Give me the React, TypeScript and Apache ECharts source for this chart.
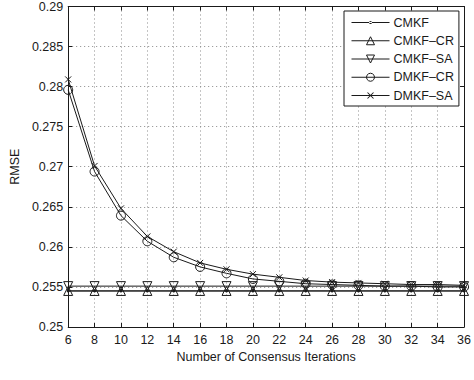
import React, { useEffect, useRef } from "react";
import * as echarts from "echarts";

const iterations = [6, 8, 10, 12, 14, 16, 18, 20, 22, 24, 26, 28, 30, 32, 34, 36];
const cmkf = [0.2545, 0.2545, 0.2545, 0.2545, 0.2545, 0.2545, 0.2545, 0.2545, 0.2545, 0.2545, 0.2545, 0.2545, 0.2545, 0.2545, 0.2545, 0.2545];
const cmkfCR = [0.2545, 0.2545, 0.2545, 0.2545, 0.2545, 0.2545, 0.2545, 0.2545, 0.2545, 0.2545, 0.2545, 0.2545, 0.2545, 0.2545, 0.2545, 0.2545];
const cmkfSA = [0.2551, 0.2551, 0.2551, 0.2551, 0.2551, 0.2551, 0.2551, 0.2551, 0.2551, 0.2551, 0.2551, 0.2551, 0.2551, 0.2551, 0.2551, 0.2551];
const dmkfCR = [0.2796, 0.2694, 0.2639, 0.2607, 0.2587, 0.2575, 0.2567, 0.256, 0.2557, 0.2554, 0.2553, 0.2552, 0.2551, 0.2551, 0.255, 0.255];
const dmkfSA = [0.2809, 0.2701, 0.2648, 0.2613, 0.2594, 0.258, 0.2572, 0.2566, 0.2562, 0.2558, 0.2556, 0.2555, 0.2554, 0.2553, 0.2553, 0.2552];

const seriesNames = ["CMKF", "CMKF–CR", "CMKF–SA", "DMKF–CR", "DMKF–SA"];
const xTitle = "Number of Consensus Iterations";
const yTitle = "RMSE";

const FONT = "Liberation Sans";
const INK = "#1a1a1a";
const CROSS = "path://M0,0L10,10M10,0L0,10";
// legend icons drawn in a 38x10 box; corner specks keep the box size, a thin bar is the line
const ICON_FRAME = "M0,0h0.01v0.01h-0.01z M37.99,9.99h0.01v0.01h-0.01z M0,4.5h38v1h-38z";
const CMKF_ICON = "path://" + ICON_FRAME + " M17.5,5a1.5,1.5 0 1,0 3,0a1.5,1.5 0 1,0 -3,0z";
const CROSS_ICON =
  "path://" +
  ICON_FRAME +
  " M15.65,2.35L16.35,1.65L22.35,7.65L21.65,8.35z M21.65,1.65L22.35,2.35L16.35,8.35L15.65,7.65z";

export default function App() {
  const ref = useRef<HTMLDivElement>(null);
  useEffect(() => {
    if (!ref.current) return;
    const chart = echarts.init(ref.current, undefined, { renderer: "svg" });
    const pts = (arr: number[]) => iterations.map((x, i) => [x, arr[i]]);
    const hollow = { color: "none", borderColor: INK, borderWidth: 1 };
    const lineBase = {
      type: "line" as const,
      lineStyle: { color: INK, width: 1 },
      itemStyle: hollow,
      emphasis: { disabled: true },
      z: 3,
    };
    const xBase = {
      type: "value" as const,
      min: 6,
      max: 36,
      interval: 2,
      axisLine: { show: true, onZero: false, lineStyle: { color: INK, width: 1 } },
      axisTick: { show: true, inside: true, length: 4, lineStyle: { color: INK } },
    };
    const yBase = {
      type: "value" as const,
      min: 0.25,
      max: 0.29,
      interval: 0.005,
      axisLine: { show: true, onZero: false, lineStyle: { color: INK, width: 1 } },
      axisTick: { show: true, inside: true, length: 4, lineStyle: { color: INK } },
    };
    chart.setOption({
      animation: false,
      backgroundColor: "#fff",
      textStyle: { fontFamily: FONT, color: INK },
      grid: { left: 58, right: 7, top: 5, bottom: 53, containLabel: false },
      legend: {
        orient: "vertical",
        left: 344,
        top: 11,
        padding: [5, 5, 4, 7],
        itemWidth: 38,
        itemHeight: 10,
        itemGap: 5.25,
        backgroundColor: "#fff",
        borderColor: INK,
        borderWidth: 1,
        lineStyle: { width: 1, color: INK },
        itemStyle: { borderWidth: 1 },
        textStyle: { fontFamily: FONT, fontSize: 12.5, color: INK, padding: [0, 0, 0, -1] },
        data: [
          { name: seriesNames[0], icon: CMKF_ICON, itemStyle: { color: INK, borderWidth: 0 } },
          seriesNames[1],
          seriesNames[2],
          seriesNames[3],
          { name: seriesNames[4], icon: CROSS_ICON, itemStyle: { color: INK, borderWidth: 0 } },
        ],
      },
      xAxis: [
        {
          ...xBase,
          position: "bottom",
          name: xTitle,
          nameLocation: "middle",
          nameGap: 19,
          nameTextStyle: { fontFamily: FONT, fontSize: 12.5, color: INK },
          axisLabel: { fontFamily: FONT, fontSize: 12.5, color: INK, margin: 6 },
          splitLine: { show: true, lineStyle: { color: "#8a8a8a", type: [1, 3], width: 1 } },
        },
        {
          ...xBase,
          position: "top",
          axisLabel: { show: false },
          splitLine: { show: false },
        },
      ],
      yAxis: [
        {
          ...yBase,
          position: "left",
          name: yTitle,
          nameLocation: "middle",
          nameGap: 42,
          nameRotate: 90,
          nameTextStyle: { fontFamily: FONT, fontSize: 12.5, color: INK },
          axisLabel: {
            fontFamily: FONT,
            fontSize: 12.5,
            color: INK,
            margin: 5,
            formatter: (v: number) => String(+v.toFixed(3)),
          },
          splitLine: { show: true, lineStyle: { color: "#8a8a8a", type: [1, 3], width: 1 } },
        },
        {
          ...yBase,
          position: "right",
          axisLabel: { show: false },
          splitLine: { show: false },
        },
      ],
      series: [
        {
          ...lineBase,
          name: seriesNames[0],
          data: pts(cmkf),
          symbol: "circle",
          symbolSize: 3,
          itemStyle: { color: INK, borderColor: INK, borderWidth: 0 },
        },
        {
          ...lineBase,
          name: seriesNames[1],
          data: pts(cmkfCR),
          symbol: "triangle",
          symbolSize: 9,
        },
        {
          ...lineBase,
          name: seriesNames[2],
          data: pts(cmkfSA),
          symbol: "triangle",
          symbolRotate: 180,
          symbolSize: 9,
        },
        {
          ...lineBase,
          name: seriesNames[3],
          data: pts(dmkfCR),
          symbol: "circle",
          symbolSize: 9,
        },
        {
          ...lineBase,
          name: seriesNames[4],
          data: pts(dmkfSA),
          symbol: CROSS,
          symbolSize: 6,
        },
      ],
    });
    return () => chart.dispose();
  }, []);
  return (
    <div
      ref={ref}
      style={{ position: "fixed", left: 0, top: 0, width: 474, height: 380, background: "#fff" }}
    />
  );
}
